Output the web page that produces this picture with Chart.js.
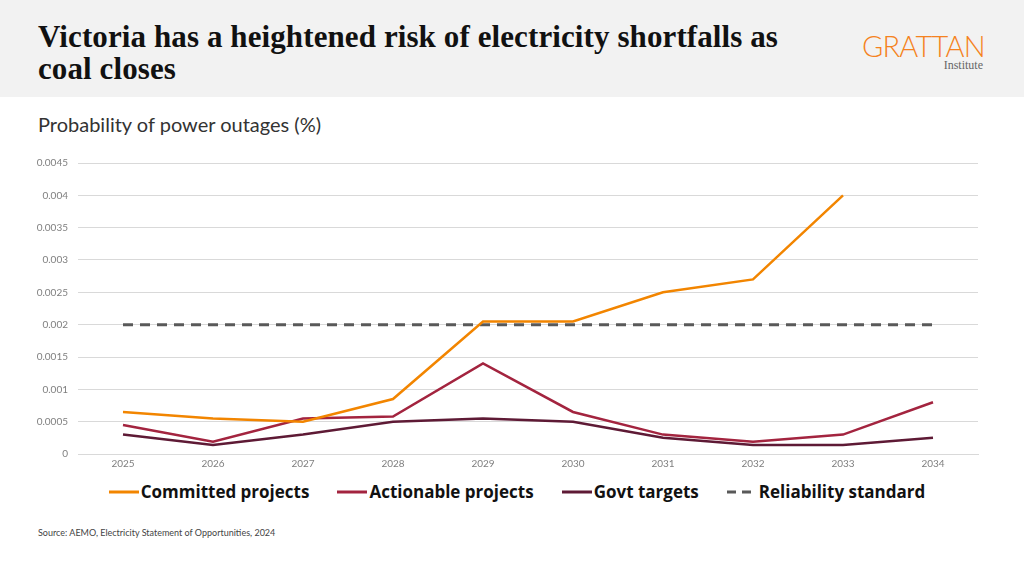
<!DOCTYPE html>
<html>
<head>
<meta charset="utf-8">
<script src="https://cdn.jsdelivr.net/npm/chart.js@4"></script>
<style>
  html, body { margin: 0; padding: 0; background: #fff; }
  body { width: 1024px; height: 576px; position: relative; overflow: hidden; font-family: Lato, sans-serif; }
  #header { position: absolute; left: 0; top: 0; width: 1024px; height: 97px; background: #f2f2f2; }
  #title { position: absolute; left: 38px; top: 21px; width: 765px; font-family: "Liberation Serif", serif; font-weight: bold; font-size: 31px; line-height: 32px; color: #111; letter-spacing: 0.1px; }
  #logo { position: absolute; left: 862px; top: 28px; font-family: Lato, sans-serif; font-weight: 300; font-size: 29px; color: #f58220; letter-spacing: -0.8px; }
  #inst { position: absolute; right: 41px; top: 58px; font-family: "Liberation Serif", serif; font-size: 12px; color: #666; }
  #subtitle { position: absolute; left: 38px; top: 112px; font-size: 20px; color: #333; }
  #wrap { position: absolute; left: 0; top: 147px; width: 1024px; height: 327px; }
  #legend { position: absolute; left: 0; top: 481px; width: 1034px; display: flex; justify-content: center; gap: 28px; font-family: "Open Sans", sans-serif; font-weight: bold; font-size: 17px; color: #111; line-height: 22px; }
  #legend span.item { display: flex; align-items: center; gap: 2px; }
  #source { position: absolute; left: 38px; top: 527px; font-size: 9px; color: #444; }
</style>
</head>
<body>
<div id="header">
  <div id="title">Victoria has a heightened risk of electricity shortfalls as coal closes</div>
  <div id="logo">GRATTAN</div>
  <div id="inst">Institute</div>
</div>
<div id="subtitle">Probability of power outages (%)</div>
<div id="wrap"><canvas id="lineChart"></canvas></div>
<div id="legend"></div>
<div id="source">Source: AEMO, Electricity Statement of Opportunities, 2024</div>
<script>
'use strict';

// 年（横軸）
const years = ['2025', '2026', '2027', '2028', '2029', '2030', '2031', '2032', '2033', '2034'];
// 確定済みプロジェクト
const committedProjects = [0.00065, 0.00055, 0.0005, 0.00085, 0.00205, 0.00205, 0.0025, 0.0027, 0.004, null];
// 実行可能プロジェクト
const actionableProjects = [0.00045, 0.00019, 0.00055, 0.00058, 0.0014, 0.00065, 0.0003, 0.00019, 0.0003, 0.0008];
// 政府目標
const govtTargets = [0.0003, 0.00014, 0.0003, 0.0005, 0.00055, 0.0005, 0.00025, 0.00014, 0.00014, 0.00025];
// 信頼性基準
const reliabilityStandard = [0.002, 0.002, 0.002, 0.002, 0.002, 0.002, 0.002, 0.002, 0.002, 0.002];
// 縦軸の目盛り
const yTicks = [0, 0.0005, 0.001, 0.0015, 0.002, 0.0025, 0.003, 0.0035, 0.004, 0.0045];

/**
 * 折れ線データ生成
 */
function createLine(label, data, color, dash) {
    return {
        label: label,
        data: data,
        borderColor: color,
        backgroundColor: color,
        borderWidth: dash ? 3 : 2.5,
        borderDash: dash || [],
        pointRadius: 0,
        tension: 0,
        fill: false
    };
}

const ctx = document.getElementById('lineChart');
const chart = new Chart(ctx, {
    type: 'line',
    data: {
        labels: years,
        datasets: [
            createLine('Committed projects', committedProjects, '#f28500'),
            createLine('Actionable projects', actionableProjects, '#a3243f'),
            createLine('Govt targets', govtTargets, '#5e1a35'),
            createLine('Reliability standard', reliabilityStandard, '#595959', [10, 7])
        ]
    },
    options: {
        responsive: true,
        maintainAspectRatio: false,
        animation: false,
        layout: { padding: { left: 0, right: 46, top: 10, bottom: 0 } },
        plugins: {
            legend: { display: false },
            tooltip: { enabled: false }
        },
        scales: {
            x: {
                offset: true,
                grid: { display: false, drawTicks: false },
                border: { color: '#d9d9d9', width: 1 },
                ticks: { color: '#7f7f7f', font: { family: 'Lato', size: 10 }, padding: 4 }
            },
            y: {
                min: 0,
                max: 0.0045,
                afterFit: axis => { axis.width = 78; },
                afterBuildTicks: axis => { axis.ticks = yTicks.map(v => ({ value: v })); },
                grid: { color: '#d9d9d9', drawTicks: false },
                border: { display: false },
                ticks: {
                    color: '#7f7f7f',
                    padding: 10,
                    font: { family: 'Lato', size: 10 },
                    callback: v => String(v)
                }
            }
        }
    }
});

// 凡例（データセットから生成）
const legendEl = document.getElementById('legend');
chart.data.datasets.forEach(ds => {
    const item = document.createElement('span');
    item.className = 'item';
    const dash = ds.borderDash.length ? 'stroke-dasharray="9 6"' : '';
    item.innerHTML = `<svg width="30" height="6"><line x1="0" y1="3" x2="30" y2="3" stroke="${ds.borderColor}" stroke-width="3" ${dash}/></svg><span>${ds.label}</span>`;
    legendEl.appendChild(item);
});
</script>
</body>
</html>
